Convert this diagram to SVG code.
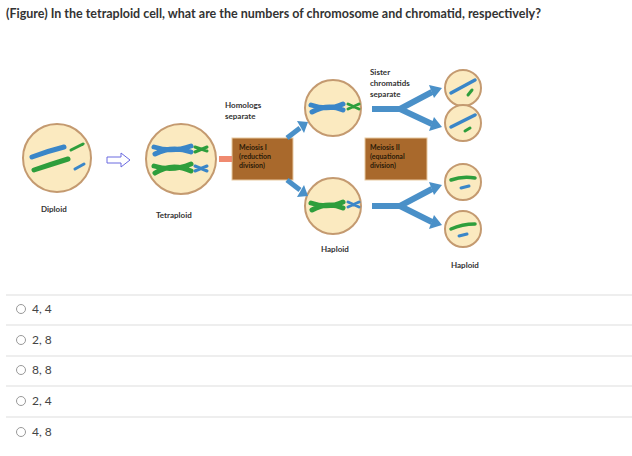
<svg xmlns="http://www.w3.org/2000/svg" width="632" height="456" viewBox="0 0 632 456">
<style>
text{font-family:"Lato","Liberation Sans",sans-serif}
.t{font-size:8px;font-weight:bold;fill:#333}
.cell{fill:#fbeac0;stroke:#c49a70;stroke-width:2}
.b{stroke:#3a86c8;stroke-linecap:round;fill:none}
.g{stroke:#2e9e3c;stroke-linecap:round;fill:none}
.box{fill:#a9692c;stroke:#e8c9a0;stroke-width:1}
.bt{font-size:7px;fill:#2a1a08;font-weight:bold}
.arr{fill:#4a90c8}
.opt{font-size:12px;fill:#444}
.rad{fill:#fff;stroke:#999;stroke-width:1}
.sep{stroke:#ddd;stroke-width:1}
</style>
<rect width="632" height="456" fill="#fff"/>
<text x="6" y="18" font-size="12.5" font-weight="bold" fill="#333">(Figure) In the tetraploid cell, what are the numbers of chromosome and chromatid, respectively?</text>
<g id="diploid"><circle class="cell" cx="57" cy="158" r="34"/>
<path class="b" d="M32 157 Q48 151 64 147" stroke-width="5"/><path class="g" d="M34 170 Q52 164 68 159" stroke-width="5"/>
<path class="g" d="M71 150 L83 144" stroke-width="3"/><path class="b" d="M75 169 L84 164" stroke-width="3"/>
<text class="t" x="41" y="212">Diploid</text></g>
<g id="tetraploid"><circle class="cell" cx="181" cy="159" r="35"/>
<path class="b" d="M154 147 Q172 153 191 146 M155 154 Q172 145 191 152" stroke-width="5"/>
<path class="g" d="M154 166 Q172 172 191 164 M155 173 Q172 162 191 171" stroke-width="5"/>
<path class="g" d="M195 147 L207 151 M195 152 L207 147" stroke-width="3"/>
<path class="b" d="M195 166 L207 171 M195 171 L207 166" stroke-width="3"/>
<text class="t" x="156" y="218">Tetraploid</text></g>
<g id="hap1"><circle class="cell" cx="333" cy="108" r="28"/>
<path class="b" d="M311 105 Q328 111 343 104 M312 112 Q328 103 343 110" stroke-width="5"/>
<path class="g" d="M348 104 L359 109 M348 109 L359 104" stroke-width="3"/></g>
<g id="hap2"><circle class="cell" cx="333" cy="206" r="28"/>
<path class="g" d="M311 203 Q328 209 343 202 M312 210 Q328 201 343 208" stroke-width="5"/>
<path class="b" d="M348 202 L359 207 M348 207 L359 202" stroke-width="3"/>
<text class="t" x="321" y="252">Haploid</text></g>
<g id="c1"><circle class="cell" cx="463" cy="88" r="18"/><path class="b" d="M451 93 L475 80" stroke-width="3.5"/><path class="g" d="M468 95 L472 90" stroke-width="3"/></g>
<g id="c2"><circle class="cell" cx="463" cy="123" r="18"/><path class="b" d="M451 127 L475 115" stroke-width="3.5"/><path class="g" d="M465 131 L470 128" stroke-width="3"/></g>
<g id="c3"><circle class="cell" cx="463" cy="182" r="18"/><path class="g" d="M451 180 Q462 176 475 178" stroke-width="3.5"/><path class="b" d="M461 188 L469 186" stroke-width="3"/></g>
<g id="c4"><circle class="cell" cx="463" cy="229" r="18"/><path class="g" d="M451 229 Q462 224 475 224" stroke-width="3.5"/><path class="b" d="M459 236 L467 234" stroke-width="3"/>
<text class="t" x="451" y="268">Haploid</text></g>
<g id="meiosis1"><rect class="box" x="232" y="138" width="61" height="42"/>
<text class="bt" x="239" y="150">Meiosis I</text><text class="bt" x="239" y="159">(reduction</text><text class="bt" x="239" y="168">division)</text></g>
<g id="meiosis2"><rect class="box" x="365" y="138" width="62" height="42"/>
<text class="bt" x="370" y="150">Meiosis II</text><text class="bt" x="370" y="159">(equational</text><text class="bt" x="370" y="168">division)</text></g>
<text class="t" x="225" y="108">Homologs</text><text class="t" x="225" y="119">separate</text>
<text class="t" x="370" y="75">Sister</text><text class="t" x="370" y="86">chromatids</text><text class="t" x="370" y="97">separate</text>
<g id="connectors">
<path d="M107 157 H121 V153 L130 160 L121 167 V163 H107 Z" fill="#fff" stroke="#6a6ae0" stroke-width="1"/>
<rect x="219" y="156" width="13" height="6" fill="#f08a70"/>
<path d="M287 138 L300 128" stroke="#4a90c8" stroke-width="5"/><polygon class="arr" points="297,121 308,122 304,133"/>
<path d="M287 180 L300 190" stroke="#4a90c8" stroke-width="5"/><polygon class="arr" points="297,197 308,196 304,185"/>
<path d="M372 109 H400 L432 92 M400 109 L432 124" stroke="#4a90c8" stroke-width="6" fill="none"/>
<polygon class="arr" points="429,85 442,88 434,98"/><polygon class="arr" points="429,131 442,127 434,117"/>
<path d="M372 206 H400 L432 189 M400 206 L432 222" stroke="#4a90c8" stroke-width="6" fill="none"/>
<polygon class="arr" points="429,182 442,185 434,195"/><polygon class="arr" points="429,229 442,225 434,215"/>
</g>
<line class="sep" x1="6" y1="295" x2="632" y2="295"/><line class="sep" x1="6" y1="325" x2="632" y2="325"/>
<line class="sep" x1="6" y1="356" x2="632" y2="356"/><line class="sep" x1="6" y1="386" x2="632" y2="386"/>
<line class="sep" x1="6" y1="417" x2="632" y2="417"/>
<circle class="rad" cx="21" cy="309" r="4.5"/><text class="opt" x="32" y="313">4, 4</text>
<circle class="rad" cx="21" cy="340" r="4.5"/><text class="opt" x="32" y="344">2, 8</text>
<circle class="rad" cx="21" cy="370" r="4.5"/><text class="opt" x="32" y="374">8, 8</text>
<circle class="rad" cx="21" cy="401" r="4.5"/><text class="opt" x="32" y="405">2, 4</text>
<circle class="rad" cx="21" cy="432" r="4.5"/><text class="opt" x="32" y="436">4, 8</text>
</svg>
